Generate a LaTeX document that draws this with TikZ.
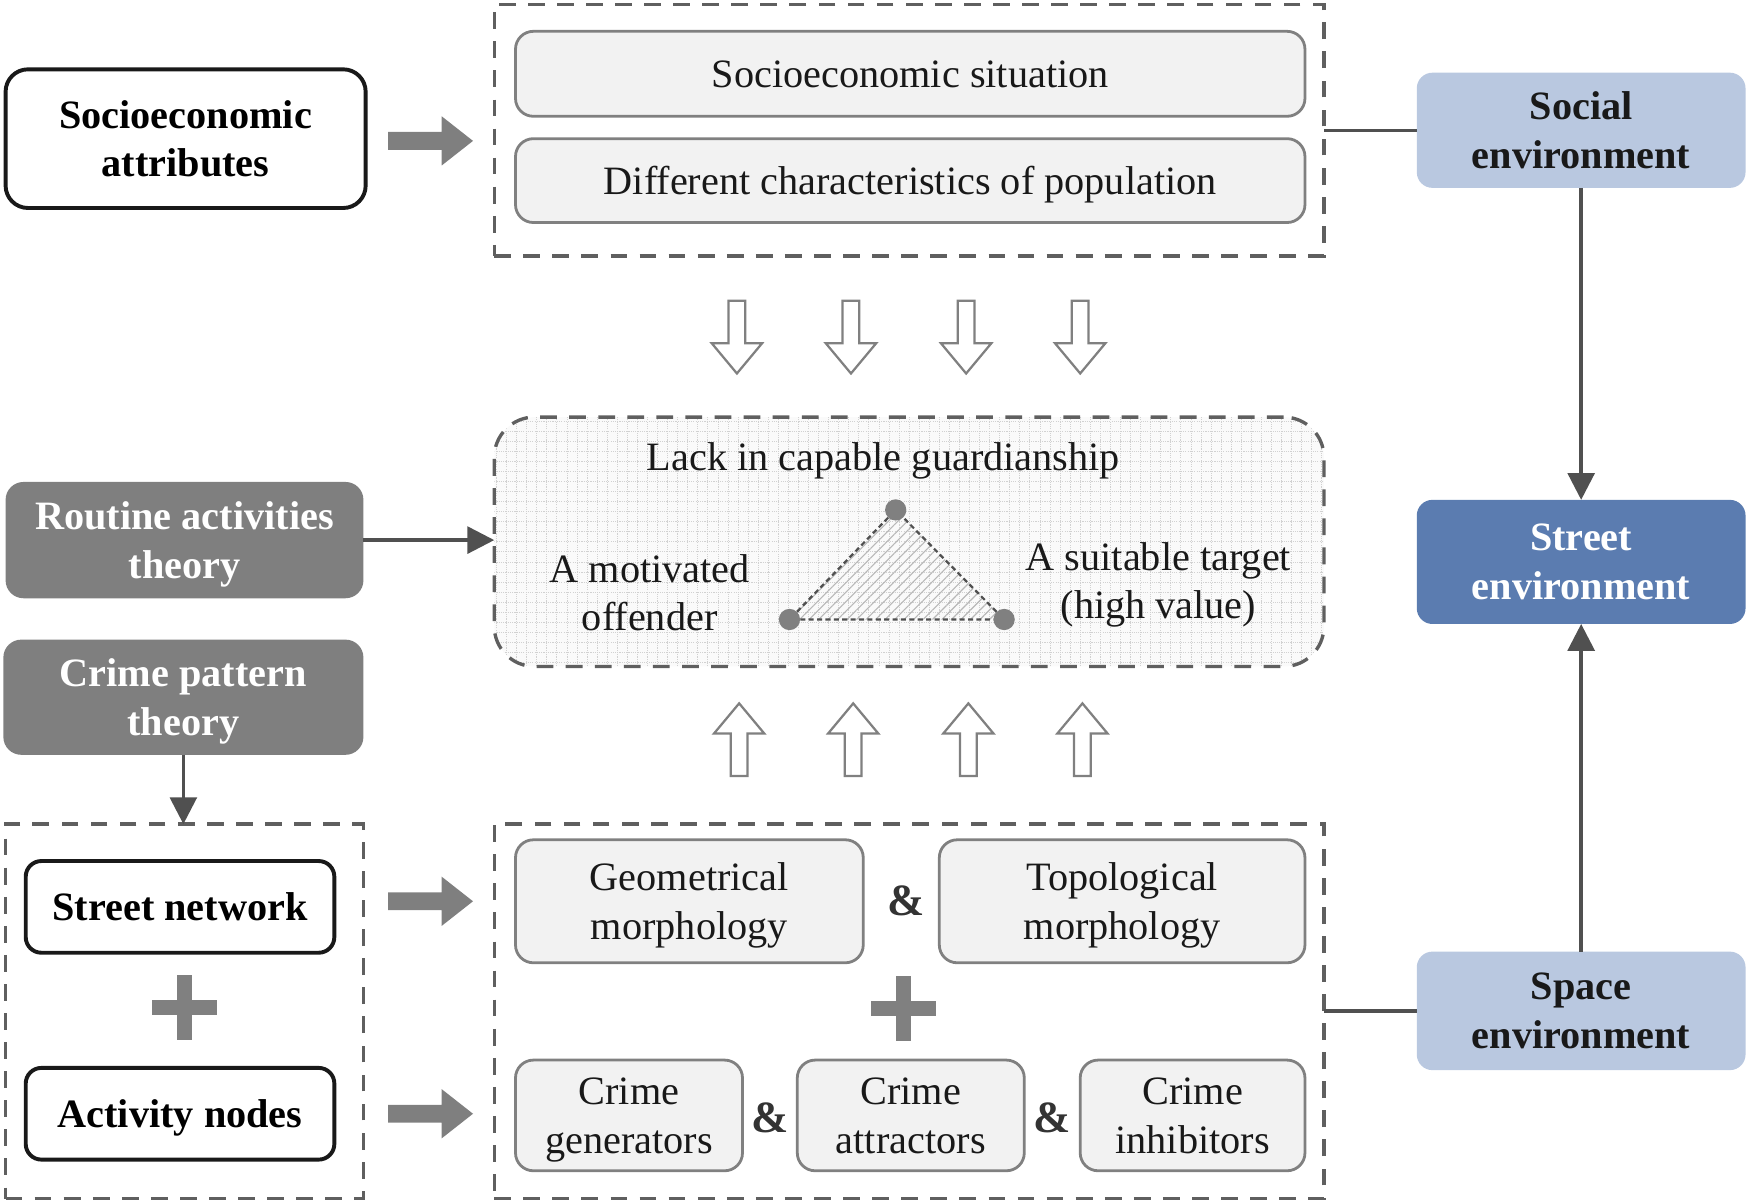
\documentclass[tikz,border=0pt]{standalone}
\usepackage{fontspec}
\setmainfont{Liberation Serif}
\usepackage{tikz}
\usetikzlibrary{positioning}
\usetikzlibrary{arrows.meta}
\usetikzlibrary{patterns.meta}
\definecolor{framegray}{HTML}{5F5F5F}
\definecolor{boxgray}{HTML}{808080}
\definecolor{boxfill}{HTML}{F2F2F2}
\definecolor{theorygray}{HTML}{7F7F7F}
\definecolor{envlight}{HTML}{B9C8E0}
\definecolor{envdark}{HTML}{5B7CB0}
\definecolor{linkgray}{HTML}{505050}
\newcommand{\figfont}{\fontsize{36}{43.5}\selectfont}

\begin{document}
\begin{tikzpicture}[x=1pt,y=-1pt,
  frame/.style={draw=framegray,line width=3pt,dash pattern=on 15pt off 11pt,inner sep=0pt,outer sep=0pt},
  inbox/.style={draw=boxgray,fill=boxfill,line width=2.5pt,rounded corners=16pt,align=center,font=\figfont,text=black!90,inner sep=0pt,outer sep=0pt,text depth=0pt},
  keybox/.style={draw=black!90,fill=white,line width=3.5pt,rounded corners=20pt,align=center,font=\figfont\bfseries,inner sep=0pt,outer sep=0pt,text depth=0pt},
  theory/.style={fill=theorygray,text=white,rounded corners=16pt,align=center,font=\figfont\bfseries,inner sep=0pt,outer sep=0pt,text depth=0pt,minimum width=320pt,minimum height=104pt},
  env/.style={fill=envlight,text=black!90,rounded corners=14pt,align=center,font=\figfont\bfseries,inner sep=0pt,outer sep=0pt,text depth=0pt,minimum width=294pt},
  link/.style={draw=linkgray,line width=3pt},
  linkarrow/.style={link,-{Triangle[length=24pt,width=24pt]}},
  hollow/.style={draw=boxgray,fill=white,line width=2pt},
  plusmark/.style={draw=boxgray,line width=13pt},
  amp/.style={font=\fontsize{40}{48}\selectfont\bfseries,text=black!80},
  plain/.style={font=\figfont,align=center,text=black!90},
  dot/.style={circle,fill=boxgray,inner sep=0pt,minimum size=19pt}]

\useasboundingbox (0,0) rectangle (1565,1074);

% dashed frames
\node[frame,minimum width=742pt,minimum height=225pt] (topframe) at (813,116.5) {};
\node[frame,rounded corners=36pt,minimum width=742pt,minimum height=223pt,fill=black!2,
  path picture={\draw[sharp corners,black!18,line width=0.7pt,dash pattern=on 1pt off 1pt] (path picture bounding box.south west) grid[step=9pt] (path picture bounding box.north east);}] (guard) at (813,484.5) {};
\node[frame,minimum width=320pt,minimum height=335pt] (leftframe) at (165,904.5) {};
\node[frame,minimum width=742pt,minimum height=335pt] (spaceframe) at (813,904.5) {};

% social part
\node[keybox,minimum width=322pt,minimum height=124pt] (socattr) at (166,124) {Socioeconomic\\attributes};
\node[inbox,minimum width=706pt,minimum height=76pt] (socsit) at (814,66) {Socioeconomic situation};
\node[inbox,minimum width=706pt,minimum height=75pt,below=20pt of socsit] (popchar) {Different characteristics of population};

% environments
\node[env,minimum height=103pt] (social) at (1414,116.5) {Social\\environment};
\node[env,fill=envdark,text=white,minimum height=111pt] (street) at (1414,502.5) {Street\\environment};
\node[env,minimum height=106pt] (space) at (1414,904) {Space\\environment};

% theories
\node[theory] (routine) at (165,483) {Routine activities\\theory};
\node[theory,minimum width=322pt,minimum height=103pt] (pattern) at (164,623.5) {Crime pattern\\theory};

% crime triangle
\node[plain] (guardian) at (790,412) {Lack in capable guardianship};
\node[plain] (offender) at (581,530) {A motivated\\offender};
\node[plain] (target) at (1036,523) {A suitable target\\(high value)};
\fill[pattern={Lines[angle=45,distance=6pt,line width=1pt]},pattern color=black!28] (801,456) -- (706,554) -- (898,554) -- cycle;
\node[dot] (tg) at (801,456) {};
\node[dot] (to) at (706,554) {};
\node[dot] (tt) at (898,554) {};
\draw[linkgray,line width=2pt,dash pattern=on 4.5pt off 3pt] (tg) -- (to) -- (tt) -- (tg);

% space part
\node[keybox,minimum width=276pt,minimum height=82pt,rounded corners=14pt] (network) at (161,811) {Street network};
\node[keybox,minimum width=276pt,minimum height=82pt,rounded corners=14pt,below=103pt of network] (actnodes) {Activity nodes};
\node[inbox,minimum width=311pt,minimum height=110pt] (geom) at (616.5,806) {Geometrical\\morphology};
\node[inbox,minimum width=327pt,minimum height=110pt] (topo) at (1003.5,806) {Topological\\morphology};
\node[amp] (amp1) at (810,806) {\&};
\node[inbox,minimum width=203pt,minimum height=99pt] (generators) at (562.5,997.5) {Crime\\generators};
\node[inbox,minimum width=203pt,minimum height=99pt,right=49pt of generators] (attractors) {Crime\\attractors};
\node[inbox,minimum width=201pt,minimum height=99pt,right=50pt of attractors] (inhibitors) {Crime\\inhibitors};
\node[amp] (amp2) at (689,1000) {\&};
\node[amp] (amp3) at (941,1000) {\&};

% block arrows and plus marks
\foreach \y in {126,806,996}
  \fill[theorygray] (347,\y-8) -- (395,\y-8) -- (395,\y-22) -- (423,\y) -- (395,\y+22) -- (395,\y+8) -- (347,\y+8) -- cycle;
\foreach \x in {659,761,864,966}
  \draw[hollow] (\x-7.5,269) -- (\x+7.5,269) -- (\x+7.5,307) -- (\x+22.5,307) -- (\x,334) -- (\x-22.5,307) -- (\x-7.5,307) -- cycle;
\foreach \x in {661,763,866,968}
  \draw[hollow] (\x-7.5,694) -- (\x+7.5,694) -- (\x+7.5,656) -- (\x+22.5,656) -- (\x,629) -- (\x-22.5,656) -- (\x-7.5,656) -- cycle;
\foreach \x/\y in {165/901,808/902}
  \draw[plusmark] (\x-29,\y) -- (\x+29,\y) (\x,\y-29) -- (\x,\y+29);

% connectors
\draw[link] (social.west) -- (social.west -| topframe.east);
\draw[link] (space.west) -- (space.west -| spaceframe.east);
\draw[linkarrow] (social) -- (street);
\draw[linkarrow] (space) -- (street);
\draw[linkarrow] (routine) -- (routine.east -| guard.west);
\draw[linkarrow] (pattern.south) -- (pattern.south |- leftframe.north);
\end{tikzpicture}
\end{document}
